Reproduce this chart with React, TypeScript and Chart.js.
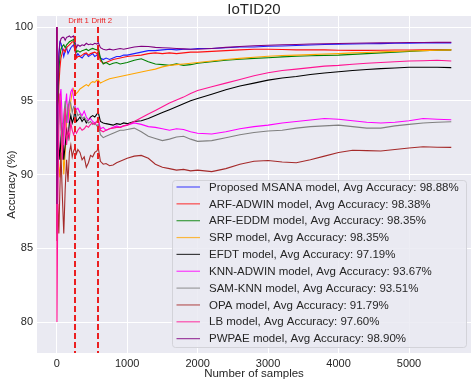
import React, { useEffect, useRef } from "react";
import { Chart, registerables } from "chart.js";

Chart.register(...registerables);

const TITLE = "IoTID20";
const X_LABEL = "Number of samples";
const Y_LABEL = "Accuracy (%)";
const X_TICKS = [0, 1000, 2000, 3000, 4000, 5000];
const Y_TICKS = [80, 85, 90, 95, 100];
const DRIFT_X = [260, 590];
const DRIFT_LABELS = ["Drift 1", "Drift 2"];

const SAMPLES = [0, 3, 15, 30, 45, 60, 80, 100, 120, 140, 160, 180, 200, 220, 240, 260, 280, 300, 330, 360, 390, 420, 450, 480, 510, 540, 570, 590, 620, 660, 700, 750, 800, 850, 900, 950, 1000, 1100, 1200, 1300, 1400, 1500, 1600, 1700, 1800, 1900, 2000, 2200, 2400, 2600, 2800, 3000, 3200, 3400, 3600, 3800, 4000, 4200, 4400, 4600, 4800, 5000, 5200, 5400, 5600];

const MSANA = [100, 93.0, 96.5, 98.2, 99.0, 98.9, 98.5, 98.0, 98.4, 98.6, 98.2, 98.4, 98.6, 98.7, 98.8, 98.4, 98.0, 98.2, 98.0, 97.9, 98.1, 98.2, 98.0, 98.1, 98.2, 98.0, 98.1, 98.3, 97.9, 97.8, 97.9, 97.8, 97.9, 98.0, 98.0, 98.1, 98.1, 98.2, 98.3, 98.4, 98.4, 98.45, 98.5, 98.45, 98.5, 98.5, 98.55, 98.55, 98.6, 98.65, 98.65, 98.7, 98.72, 98.75, 98.78, 98.82, 98.83, 98.85, 98.87, 98.88, 98.9, 98.9, 98.92, 98.93, 98.93];
const ARF_ADWIN = [100, 90.0, 94.0, 96.0, 97.2, 97.9, 98.3, 98.5, 98.3, 98.6, 98.7, 98.8, 98.9, 99.0, 99.0, 98.4, 97.9, 98.0, 98.0, 98.1, 98.2, 98.25, 98.1, 98.2, 98.25, 98.3, 98.2, 98.35, 97.7, 97.55, 97.6, 97.7, 97.8, 97.85, 97.9, 97.95, 98.0, 98.05, 98.1, 98.2, 98.25, 98.2, 98.25, 98.2, 98.25, 98.3, 98.3, 98.35, 98.4, 98.45, 98.5, 98.5, 98.48, 98.45, 98.45, 98.45, 98.43, 98.42, 98.42, 98.43, 98.44, 98.44, 98.45, 98.45, 98.45];
const ARF_EDDM = [100, 91.0, 95.0, 97.0, 98.0, 98.5, 98.7, 98.8, 98.6, 98.8, 98.9, 99.0, 99.05, 99.1, 99.15, 98.8, 98.3, 98.4, 98.3, 98.4, 98.45, 98.5, 98.4, 98.5, 98.55, 98.5, 98.45, 98.6, 97.9, 97.5, 97.6, 97.45, 97.55, 97.6, 97.5, 97.55, 97.6, 97.75, 97.85, 97.65, 97.5, 97.45, 97.4, 97.5, 97.4, 97.45, 97.55, 97.65, 97.75, 97.82, 97.88, 97.92, 97.98, 98.02, 98.05, 98.08, 98.1, 98.15, 98.2, 98.25, 98.3, 98.35, 98.4, 98.43, 98.45];
const SRP = [100, 94.0, 92.0, 90.5, 89.8, 91.5, 93.0, 90.0, 91.5, 93.5, 94.8, 94.0, 95.0, 95.6, 95.8, 95.4, 95.5, 95.6, 95.8, 95.9, 96.0, 96.1, 96.0, 96.2, 96.3, 96.25, 96.4, 96.4, 96.2, 96.3, 96.4, 96.5, 96.55, 96.6, 96.65, 96.7, 96.75, 96.85, 96.95, 97.05, 97.15, 97.3, 97.4, 97.45, 97.5, 97.55, 97.6, 97.7, 97.8, 97.88, 97.95, 98.02, 98.07, 98.1, 98.13, 98.17, 98.2, 98.25, 98.28, 98.32, 98.35, 98.38, 98.4, 98.43, 98.45];
const EFDT = [100, 91.0, 93.0, 92.0, 91.0, 92.5, 93.5, 91.0, 92.0, 93.0, 92.5, 93.5, 94.0, 93.5, 93.8, 94.4, 93.6, 93.7, 93.9, 93.6, 93.8, 93.5, 93.7, 93.9, 94.0, 93.9, 94.1, 94.2, 93.6, 93.5, 93.45, 93.4, 93.35, 93.45, 93.4, 93.5, 93.45, 93.6, 93.65, 93.8, 94.0, 94.2, 94.4, 94.6, 94.8, 95.0, 95.15, 95.45, 95.75, 96.0, 96.2, 96.4, 96.55, 96.65, 96.78, 96.88, 96.97, 97.05, 97.12, 97.18, 97.22, 97.27, 97.27, 97.27, 97.25];
const KNN_ADWIN = [100, 86.0, 91.0, 94.5, 95.3, 95.8, 93.5, 92.0, 94.5, 95.5, 93.5, 95.0, 95.6, 95.8, 95.2, 94.6, 94.4, 94.5, 94.2, 94.0, 94.3, 93.9, 93.7, 93.8, 93.6, 93.5, 93.6, 93.7, 93.1, 93.2, 93.0, 93.1, 93.2, 93.3, 93.2, 93.3, 93.35, 93.5, 93.4, 93.25, 93.2, 93.1, 93.0, 93.1, 93.05, 92.9, 92.8, 92.75, 92.9, 93.1, 93.25, 93.35, 93.5, 93.6, 93.7, 93.8, 93.75, 93.65, 93.55, 93.5, 93.55, 93.65, 93.8, 93.75, 93.72];
const SAM_KNN = [100, 90.0, 92.0, 94.0, 95.0, 93.0, 92.0, 94.0, 95.0, 93.5, 94.5, 95.0, 94.8, 94.2, 94.6, 94.5, 94.3, 94.0, 94.1, 93.8, 93.9, 93.7, 93.5, 93.6, 93.4, 93.5, 93.3, 93.4, 92.7, 92.5, 92.6, 92.7, 92.8, 92.9, 93.0, 93.0, 93.05, 93.15, 92.9, 92.6, 92.45, 92.3, 92.4, 92.55, 92.6, 92.4, 92.25, 92.3, 92.5, 92.7, 92.85, 92.95, 93.0, 93.15, 93.25, 93.3, 93.35, 93.25, 93.15, 93.15, 93.3, 93.4, 93.5, 93.55, 93.58];
const OPA = [100, 85.5, 88.0, 86.0, 89.0, 91.5, 88.5, 86.0, 89.0, 91.0, 89.5, 91.5, 92.0, 91.2, 91.6, 91.8, 91.4, 91.7, 91.5, 91.0, 91.2, 90.5, 90.8, 91.3, 91.2, 91.5, 91.6, 91.8, 90.9, 90.7, 90.75, 90.6, 90.65, 90.8, 90.9, 91.0, 91.1, 91.25, 91.3, 91.1, 90.7, 90.5, 90.4, 90.3, 90.35, 90.25, 90.3, 90.2, 90.4, 90.7, 90.9, 90.95, 90.85, 90.8, 91.0, 91.25, 91.5, 91.65, 91.62, 91.6, 91.7, 91.8, 91.88, 91.85, 91.84];
const LB = [100, 80.0, 88.0, 93.0, 95.5, 94.0, 91.0, 93.0, 94.5, 92.0, 93.0, 92.5, 93.5, 93.0, 92.7, 93.0, 92.8, 93.0, 93.2, 93.0, 93.1, 93.3, 93.2, 93.4, 93.5, 93.4, 93.6, 93.7, 93.0, 92.9, 93.0, 93.1, 93.15, 93.2, 93.2, 93.3, 93.35, 93.6, 93.85, 94.1, 94.35, 94.6, 94.85, 95.05, 95.25, 95.5, 95.7, 95.95, 96.2, 96.45, 96.7, 96.9, 97.05, 97.15, 97.25, 97.35, 97.4, 97.48, 97.55, 97.6, 97.65, 97.7, 97.72, 97.75, 97.7];
const PWPAE = [100, 88.0, 95.5, 98.0, 98.9, 99.2, 99.3, 99.3, 99.1, 99.3, 99.35, 99.4, 99.3, 99.35, 99.4, 99.0, 98.6, 98.8, 98.7, 98.8, 98.75, 98.9, 98.8, 98.85, 98.8, 98.9, 98.85, 98.95, 98.6, 98.5, 98.45, 98.5, 98.45, 98.5, 98.55, 98.5, 98.55, 98.65, 98.7, 98.68, 98.62, 98.6, 98.58, 98.55, 98.52, 98.5, 98.5, 98.55, 98.62, 98.68, 98.73, 98.77, 98.8, 98.82, 98.85, 98.87, 98.89, 98.9, 98.92, 98.93, 98.94, 98.95, 98.95, 98.96, 98.96];

const SERIES_NAMES = [
  "Proposed MSANA model, Avg Accuracy: 98.88%",
  "ARF-ADWIN model, Avg Accuracy: 98.38%",
  "ARF-EDDM model, Avg Accuracy: 98.35%",
  "SRP model, Avg Accuracy: 98.35%",
  "EFDT model, Avg Accuracy: 97.19%",
  "KNN-ADWIN model, Avg Accuracy: 93.67%",
  "SAM-KNN model, Avg Accuracy: 93.51%",
  "OPA model, Avg Accuracy: 91.79%",
  "LB model, Avg Accuracy: 97.60%",
  "PWPAE model, Avg Accuracy: 98.90%",
];
const SERIES_VALUES = [MSANA, ARF_ADWIN, ARF_EDDM, SRP, EFDT, KNN_ADWIN, SAM_KNN, OPA, LB, PWPAE];
const SERIES_COLORS = ["#1e1eff", "#ff1010", "#008000", "#ffa500", "#000000", "#ff00ff", "#808080", "#a52a2a", "#ff1493", "#800080"];

const FONT = '"Liberation Sans", Arial, sans-serif';
const TEXT = "#262626";

const decorPlugin = {
  id: "decor",
  beforeDraw(chart: any) {
    const { ctx, chartArea } = chart;
    const { left, top, right, bottom } = chartArea;
    ctx.save();
    ctx.fillStyle = "#ffffff";
    ctx.fillRect(0, 0, chart.width, chart.height);
    ctx.fillStyle = "#EAEAF2";
    ctx.fillRect(left, top, right - left, bottom - top);
    ctx.restore();
  },
  afterDatasetsDraw(chart: any) {
    const { ctx, chartArea, scales } = chart;
    const xs = scales.x;
    const ys = scales.y;
    ctx.save();
    ctx.beginPath();
    ctx.rect(chartArea.left, chartArea.top, chartArea.right - chartArea.left, chartArea.bottom - chartArea.top);
    ctx.clip();
    ctx.strokeStyle = "rgba(235,20,20,0.95)";
    ctx.lineWidth = 2;
    ctx.setLineDash([6, 3]);
    DRIFT_X.forEach((d) => {
      const px = Math.round(xs.getPixelForValue(d));
      ctx.beginPath();
      ctx.moveTo(px, ys.getPixelForValue(100));
      ctx.lineTo(px, chartArea.bottom);
      ctx.stroke();
    });
    ctx.setLineDash([]);
    ctx.fillStyle = "rgba(235,20,20,0.95)";
    ctx.font = `7.8px ${FONT}`;
    ctx.textAlign = "center";
    ctx.textBaseline = "middle";
    DRIFT_X.forEach((d, i) => {
      const px = xs.getPixelForValue(d);
      ctx.fillText(DRIFT_LABELS[i], px + 3.5, 20.5);
    });
    ctx.restore();
  },
  afterDraw(chart: any) {
    const { ctx, chartArea } = chart;
    const { left, top, right, bottom } = chartArea;
    ctx.save();
    ctx.fillStyle = TEXT;
    ctx.font = `15px ${FONT}`;
    ctx.textAlign = "center";
    ctx.textBaseline = "alphabetic";
    ctx.fillText(TITLE, (left + right) / 2, 13.5);
    ctx.font = `11.5px ${FONT}`;
    ctx.fillText(X_LABEL, (left + right) / 2, 377);
    ctx.save();
    ctx.translate(14.5, (top + bottom) / 2);
    ctx.rotate(-Math.PI / 2);
    ctx.fillText(Y_LABEL, 0, 0);
    ctx.restore();
    const lx = 172, ly = 180, lw = 294, lh = 167;
    ctx.beginPath();
    (ctx as any).roundRect(lx + 0.5, ly + 0.5, lw, lh, 3);
    ctx.fillStyle = "rgba(234,234,242,0.85)";
    ctx.fill();
    ctx.strokeStyle = "rgba(208,208,214,0.9)";
    ctx.lineWidth = 1;
    ctx.stroke();
    ctx.font = `11.5px ${FONT}`;
    ctx.textAlign = "left";
    ctx.textBaseline = "middle";
    chart.data.datasets.forEach((ds: any, i: number) => {
      const cy = 187 + i * 16.85;
      ctx.strokeStyle = ds.borderColor;
      ctx.globalAlpha = 0.75;
      ctx.lineWidth = 1.2;
      ctx.beginPath();
      ctx.moveTo(176.5, cy);
      ctx.lineTo(200, cy);
      ctx.stroke();
      ctx.globalAlpha = 1;
      ctx.fillStyle = TEXT;
      ctx.fillText(ds.label, 209, cy + 0.5);
    });
    ctx.restore();
  },
};

export default function App() {
  const ref = useRef<HTMLCanvasElement | null>(null);
  useEffect(() => {
    document.body.style.margin = "0";
    const canvas = ref.current;
    if (!canvas) return;
    const datasets = SERIES_NAMES.map((name, i) => ({
      label: name,
      data: SAMPLES.map((x, j) => ({ x, y: SERIES_VALUES[i][j] })),
      borderColor: SERIES_COLORS[i],
      backgroundColor: SERIES_COLORS[i],
      borderWidth: 1.1,
      pointRadius: 0,
      tension: 0,
      fill: false,
      order: SERIES_NAMES.length - i,
    }));
    const chart = new Chart(canvas, {
      type: "line",
      data: { datasets },
      options: {
        responsive: false,
        animation: false,
        devicePixelRatio: 1,
        layout: { padding: { top: 16, right: 3, left: 0, bottom: 0 } },
        plugins: { legend: { display: false }, title: { display: false }, tooltip: { enabled: false } },
        scales: {
          x: {
            type: "linear",
            min: -280,
            max: 5880,
            border: { display: false },
            grid: { color: "#ffffff", lineWidth: 1, drawTicks: false },
            ticks: { color: TEXT, font: { family: FONT, size: 11 }, padding: 4, maxRotation: 0, callback: (v: any) => String(v) },
            afterBuildTicks: (s: any) => { s.ticks = X_TICKS.map((v) => ({ value: v })); },
            afterFit: (s: any) => { s.height = 30; },
          },
          y: {
            type: "linear",
            min: 77.9,
            max: 100.75,
            border: { display: false },
            grid: { color: "#ffffff", lineWidth: 1, drawTicks: false },
            ticks: { color: TEXT, font: { family: FONT, size: 11 }, padding: 4, callback: (v: any) => String(v) },
            afterBuildTicks: (s: any) => { s.ticks = Y_TICKS.map((v) => ({ value: v })); },
            afterFit: (s: any) => { s.width = 37; },
          },
        },
      },
      plugins: [decorPlugin],
    });
    return () => chart.destroy();
  }, []);
  return (
    <div style={{ position: "fixed", left: 0, top: 0, width: 474, height: 383 }}>
      <canvas ref={ref} width={474} height={383} style={{ display: "block" }} />
    </div>
  );
}
